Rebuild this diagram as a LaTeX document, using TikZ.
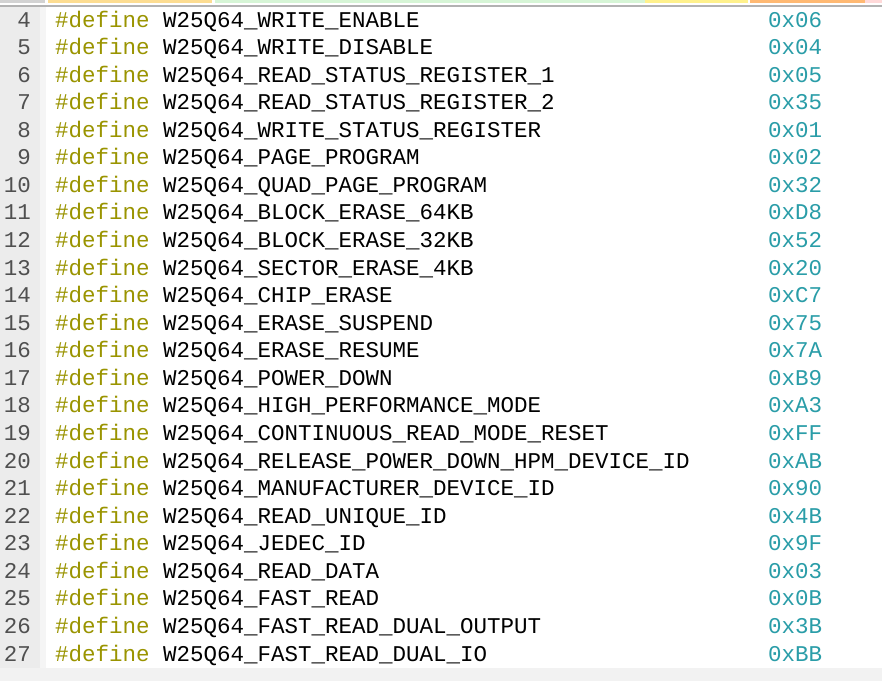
\documentclass[tikz,border=0pt]{standalone}
\usepackage{fontspec}
\setmonofont{Liberation Mono}
\definecolor{kw}{HTML}{9A9400}
\definecolor{hexc}{HTML}{2A9DA8}
\definecolor{lnc}{HTML}{505050}
\begin{document}
\begin{tikzpicture}[x=1pt,y=-1pt,
  code/.style={anchor=base west,inner sep=0pt,font=\ttfamily\fontsize{22.5}{22.5}\selectfont},
  lnum/.style={anchor=base east,inner sep=0pt,text=lnc,font=\ttfamily\fontsize{22.5}{22.5}\selectfont}]
\useasboundingbox (0,0) rectangle (882,681);
\fill[white] (0,0) rectangle (882,681);
\fill[gray!35] (0,0) rectangle (45,3);
\fill[yellow!40!orange!40] (48,0) rectangle (212,3);
\fill[gray!40!green!20] (215,0) rectangle (645,3);
\fill[orange!25!yellow!45] (645,0) rectangle (748,3);
\fill[orange!55] (750,0) rectangle (865,3);
\fill[pink!60] (865,0) rectangle (882,3);
\fill[gray!60] (0,5) rectangle (882,7);
\fill[gray!15] (0,7) rectangle (40,668);
\fill[gray!8] (40,7) rectangle (46,668);
\foreach \n/\name/\hx [count=\i from 0] in {
4/WRITE\_ENABLE/0x06,5/WRITE\_DISABLE/0x04,6/READ\_STATUS\_REGISTER\_1/0x05,
7/READ\_STATUS\_REGISTER\_2/0x35,8/WRITE\_STATUS\_REGISTER/0x01,9/PAGE\_PROGRAM/0x02,
10/QUAD\_PAGE\_PROGRAM/0x32,11/BLOCK\_ERASE\_64KB/0xD8,12/BLOCK\_ERASE\_32KB/0x52,
13/SECTOR\_ERASE\_4KB/0x20,14/CHIP\_ERASE/0xC7,15/ERASE\_SUSPEND/0x75,
16/ERASE\_RESUME/0x7A,17/POWER\_DOWN/0xB9,18/HIGH\_PERFORMANCE\_MODE/0xA3,
19/CONTINUOUS\_READ\_MODE\_RESET/0xFF,20/RELEASE\_POWER\_DOWN\_HPM\_DEVICE\_ID/0xAB,
21/MANUFACTURER\_DEVICE\_ID/0x90,22/READ\_UNIQUE\_ID/0x4B,23/JEDEC\_ID/0x9F,
24/READ\_DATA/0x03,25/FAST\_READ/0x0B,26/FAST\_READ\_DUAL\_OUTPUT/0x3B,
27/FAST\_READ\_DUAL\_IO/0xBB}{
  \pgfmathsetmacro\yy{27+27.57*\i}
  \node[lnum] (n\i) at (31,\yy) {\n};
  \node[code,text=kw] (d\i) at (55,\yy) {\#define};
  \node[code] (w\i) at (163,\yy) {W25Q64\_\name};
  \node[code,text=hexc] (h\i) at (768,\yy) {\hx};
}
\fill[gray!10] (0,668) rectangle (882,681);
\end{tikzpicture}
\end{document}
